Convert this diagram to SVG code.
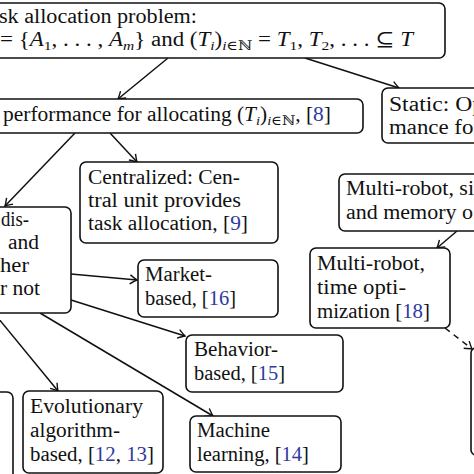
<svg xmlns="http://www.w3.org/2000/svg" width="474" height="474" viewBox="0 0 474 474">
<style>
.box{fill:#fff;stroke:#111;stroke-width:1.6}
.t{font-family:"Liberation Serif","DejaVu Serif",serif;font-size:20px;fill:#111}
.c{fill:#2e3a9f}
.i{font-style:italic}
.s{font-size:13.5px}
.e{stroke:#111;stroke-width:1.5;fill:none}
.d{stroke-dasharray:6 5}
</style>
<defs>
<marker id="ar" markerUnits="userSpaceOnUse" markerWidth="14" markerHeight="14" viewBox="-10 -7 14 14" refX="0" refY="0" orient="auto">
<path d="M-7,-4.5 Q-2,-1 0,0 Q-2,1 -7,4.5" fill="none" stroke="#111" stroke-width="1.4"/>
</marker>
</defs>
<rect width="474" height="474" fill="#fff"/>
<g id="connectors">
<line class="e" x1="168" y1="58" x2="118" y2="99" marker-end="url(#ar)"/>
<line class="e" x1="305" y1="58" x2="399" y2="88" marker-end="url(#ar)"/>
<line class="e" x1="75" y1="133" x2="5" y2="206" marker-end="url(#ar)"/>
<line class="e" x1="110" y1="133" x2="137" y2="162" marker-end="url(#ar)"/>
<line class="e" x1="71" y1="274" x2="137" y2="280" marker-end="url(#ar)"/>
<line class="e" x1="71" y1="300" x2="185" y2="336" marker-end="url(#ar)"/>
<line class="e" x1="40" y1="313" x2="213" y2="416" marker-end="url(#ar)"/>
<line class="e" x1="-6" y1="313" x2="58" y2="391" marker-end="url(#ar)"/>
<line class="e" x1="457" y1="231" x2="437" y2="248" marker-end="url(#ar)"/>
<line class="e d" x1="445" y1="328" x2="472" y2="349" marker-end="url(#ar)"/>
</g>
<g id="problem">
<rect class="box" x="-20" y="3" width="465" height="55" rx="6"/>
<text class="t" x="-1" y="23" textLength="198" lengthAdjust="spacingAndGlyphs">sk allocation problem:</text>
<text class="t" x="0" y="46" textLength="413" lengthAdjust="spacingAndGlyphs">= {<tspan class="i">A</tspan><tspan class="s" dy="4">1</tspan><tspan dy="-4">, . . . , </tspan><tspan class="i">A</tspan><tspan class="s i" dy="4">m</tspan><tspan dy="-4">} and (</tspan><tspan class="i">T</tspan><tspan class="s i" dy="4">i</tspan><tspan dy="-4">)</tspan><tspan class="s" dy="4"><tspan class="i">i</tspan>∈ℕ</tspan><tspan dy="-4"> = </tspan><tspan class="i">T</tspan><tspan class="s" dy="4">1</tspan><tspan dy="-4">, </tspan><tspan class="i">T</tspan><tspan class="s" dy="4">2</tspan><tspan dy="-4">, . . . ⊆ </tspan><tspan class="i">T</tspan></text>
</g>
<g id="dynamic">
<rect class="box" x="-20" y="99" width="383" height="34" rx="6"/>
<text class="t" x="3" y="121" textLength="328" lengthAdjust="spacingAndGlyphs">performance for allocating (<tspan class="i">T</tspan><tspan class="s i" dy="4">i</tspan><tspan dy="-4">)</tspan><tspan class="s" dy="4"><tspan class="i">i</tspan>∈ℕ</tspan><tspan dy="-4">, [</tspan><tspan class="c">8</tspan>]</text>
</g>
<g id="static">
<rect class="box" x="382" y="88" width="120" height="55" rx="6"/>
<text class="t" x="389" y="111" textLength="95" lengthAdjust="spacingAndGlyphs">Static: Op</text>
<text class="t" x="389" y="134" textLength="92" lengthAdjust="spacingAndGlyphs">mance for</text>
</g>
<g id="centralized">
<rect class="box" x="80" y="162" width="198" height="81" rx="6"/>
<text class="t" x="88" y="184" textLength="152" lengthAdjust="spacingAndGlyphs">Centralized: Cen-</text>
<text class="t" x="88" y="207" textLength="153" lengthAdjust="spacingAndGlyphs">tral unit provides</text>
<text class="t" x="88" y="230" textLength="160" lengthAdjust="spacingAndGlyphs">task allocation, [<tspan class="c">9</tspan>]</text>
</g>
<g id="decentralized">
<rect class="box" x="-20" y="207" width="91" height="106" rx="6"/>
<text class="t" x="1" y="226" textLength="28" lengthAdjust="spacingAndGlyphs">dis-</text>
<text class="t" x="8" y="249" textLength="31" lengthAdjust="spacingAndGlyphs">and</text>
<text class="t" x="0" y="272" textLength="29" lengthAdjust="spacingAndGlyphs">her</text>
<text class="t" x="0" y="295" textLength="40" lengthAdjust="spacingAndGlyphs">r not</text>
</g>
<g id="market">
<rect class="box" x="138" y="260" width="140" height="57" rx="6"/>
<text class="t" x="145" y="281" textLength="67" lengthAdjust="spacingAndGlyphs">Market-</text>
<text class="t" x="145" y="305" textLength="91" lengthAdjust="spacingAndGlyphs">based, [<tspan class="c">16</tspan>]</text>
</g>
<g id="behavior">
<rect class="box" x="186" y="335" width="157" height="57" rx="6"/>
<text class="t" x="194" y="356" textLength="84" lengthAdjust="spacingAndGlyphs">Behavior-</text>
<text class="t" x="194" y="380" textLength="91" lengthAdjust="spacingAndGlyphs">based, [<tspan class="c">15</tspan>]</text>
</g>
<g id="leftbottom">
<rect class="box" x="-20" y="392" width="33" height="90" rx="6"/>
</g>
<g id="evolutionary">
<rect class="box" x="23" y="391" width="140" height="82" rx="6"/>
<text class="t" x="30" y="413" textLength="113" lengthAdjust="spacingAndGlyphs">Evolutionary</text>
<text class="t" x="30" y="437" textLength="90" lengthAdjust="spacingAndGlyphs">algorithm-</text>
<text class="t" x="30" y="461" textLength="124" lengthAdjust="spacingAndGlyphs">based, [<tspan class="c">12</tspan>, <tspan class="c">13</tspan>]</text>
</g>
<g id="machine">
<rect class="box" x="190" y="416" width="151" height="56" rx="6"/>
<text class="t" x="197" y="437" textLength="73" lengthAdjust="spacingAndGlyphs">Machine</text>
<text class="t" x="197" y="461" textLength="112" lengthAdjust="spacingAndGlyphs">learning, [<tspan class="c">14</tspan>]</text>
</g>
<g id="multirobot-si">
<rect class="box" x="339" y="174" width="160" height="57" rx="6"/>
<text class="t" x="346" y="195" textLength="128" lengthAdjust="spacingAndGlyphs">Multi-robot, si</text>
<text class="t" x="346" y="219" textLength="127" lengthAdjust="spacingAndGlyphs">and memory o</text>
</g>
<g id="multirobot-time">
<rect class="box" x="310" y="248" width="140" height="80" rx="6"/>
<text class="t" x="317" y="270" textLength="108" lengthAdjust="spacingAndGlyphs">Multi-robot,</text>
<text class="t" x="317" y="294" textLength="89" lengthAdjust="spacingAndGlyphs">time opti-</text>
<text class="t" x="317" y="318" textLength="113" lengthAdjust="spacingAndGlyphs">mization [<tspan class="c">18</tspan>]</text>
</g>
<g id="rightbottom">
<rect class="box" x="471" y="348" width="30" height="107" rx="5"/>
</g>
</svg>
